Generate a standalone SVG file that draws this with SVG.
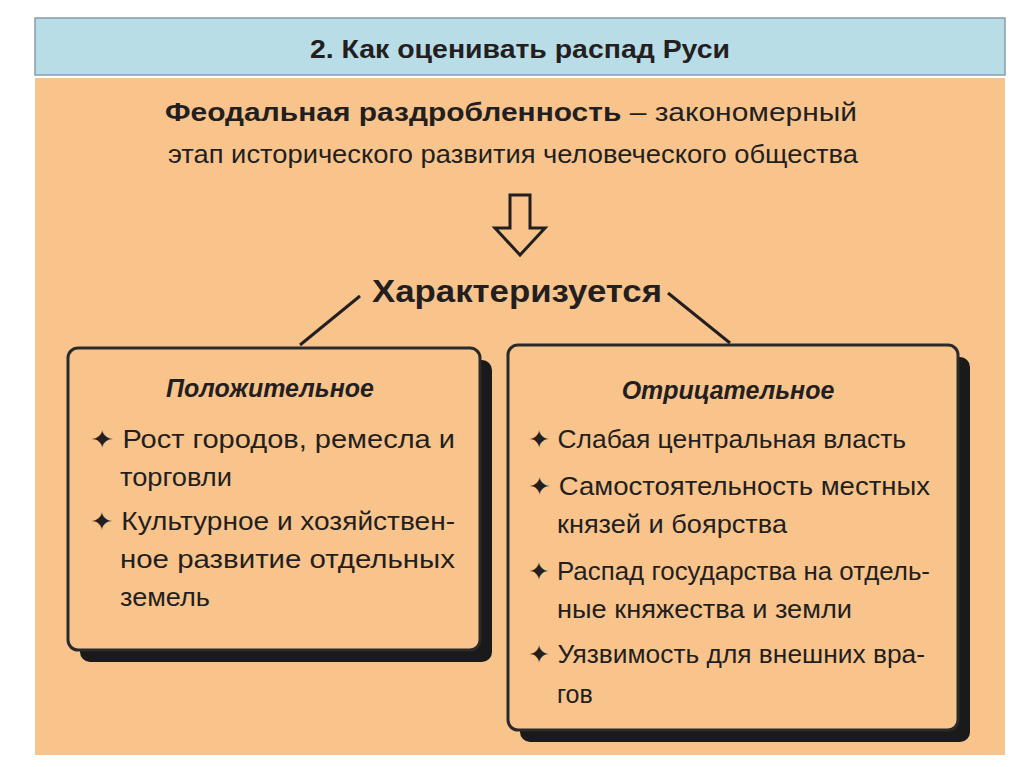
<svg xmlns="http://www.w3.org/2000/svg" width="1024" height="767" viewBox="0 0 1024 767">
<style>
.t{font-family:"Liberation Sans",Arial,sans-serif;fill:#231f20}
.b{font-size:25px}
.h{font-weight:bold}
.box{fill:#f9c48c;stroke:#2a2a2a;stroke-width:3}
.sh{fill:#1a1a1a}
</style>
<rect width="1024" height="767" fill="#ffffff"/>
<g id="title"><rect x="35" y="18" width="970" height="57" fill="#b9dde6" stroke="#8a9aa8" stroke-width="1.5"/>
<text class="t h" x="310" y="58" font-size="26" textLength="420" lengthAdjust="spacingAndGlyphs">2. Как оценивать распад Руси</text></g>
<rect x="35" y="78" width="970" height="677" fill="#f9c48c"/>
<g id="head">
<text class="t" font-size="26" x="165" y="121" textLength="692" lengthAdjust="spacingAndGlyphs"><tspan font-weight="bold">Феодальная раздробленность</tspan> – закономерный</text>
<text class="t" font-size="26" x="168" y="163" textLength="690" lengthAdjust="spacingAndGlyphs">этап исторического развития человеческого общества</text>
</g>
<g id="arrow"><path d="M510 195 H530 V228 H545 L520 255 L495 228 H510 Z" fill="none" stroke="#231f20" stroke-width="3"/></g>
<g id="char"><text class="t h" font-size="31" x="372" y="302" textLength="290" lengthAdjust="spacingAndGlyphs">Характеризуется</text></g>
<g id="connectors" stroke="#231f20" stroke-width="3">
<line x1="360" y1="296" x2="300" y2="345"/><line x1="668" y1="293" x2="730" y2="343"/>
</g>
<g id="pos">
<rect class="sh" x="80" y="360" width="412" height="302" rx="10"/>
<rect class="box" x="68" y="348" width="412" height="302" rx="10"/>
<text class="t h b" x="270" y="397" text-anchor="middle" font-style="italic">Положительное</text>
<text class="t b" x="90" y="448" textLength="365" lengthAdjust="spacingAndGlyphs">✦ Рост городов, ремесла и</text>
<text class="t b" x="120" y="486" textLength="112" lengthAdjust="spacingAndGlyphs">торговли</text>
<text class="t b" x="90" y="530" textLength="365" lengthAdjust="spacingAndGlyphs">✦ Культурное и хозяйствен-</text>
<text class="t b" x="120" y="568" textLength="335" lengthAdjust="spacingAndGlyphs">ное развитие отдельных</text>
<text class="t b" x="120" y="606" textLength="90" lengthAdjust="spacingAndGlyphs">земель</text>
</g>
<g id="neg">
<rect class="sh" x="520" y="357" width="450" height="385" rx="10"/>
<rect class="box" x="508" y="345" width="450" height="385" rx="10"/>
<text class="t h b" x="728" y="399" text-anchor="middle" font-style="italic">Отрицательное</text>
<text class="t b" x="528" y="448" textLength="378" lengthAdjust="spacingAndGlyphs">✦ Слабая центральная власть</text>
<text class="t b" x="528" y="495" textLength="402" lengthAdjust="spacingAndGlyphs">✦ Самостоятельность местных</text>
<text class="t b" x="557" y="533" textLength="230" lengthAdjust="spacingAndGlyphs">князей и боярства</text>
<text class="t b" x="528" y="580" textLength="402" lengthAdjust="spacingAndGlyphs">✦ Распад государства на отдель-</text>
<text class="t b" x="557" y="618" textLength="295" lengthAdjust="spacingAndGlyphs">ные княжества и земли</text>
<text class="t b" x="528" y="663" textLength="397" lengthAdjust="spacingAndGlyphs">✦ Уязвимость для внешних вра-</text>
<text class="t b" x="557" y="703">гов</text>
</g>
</svg>
